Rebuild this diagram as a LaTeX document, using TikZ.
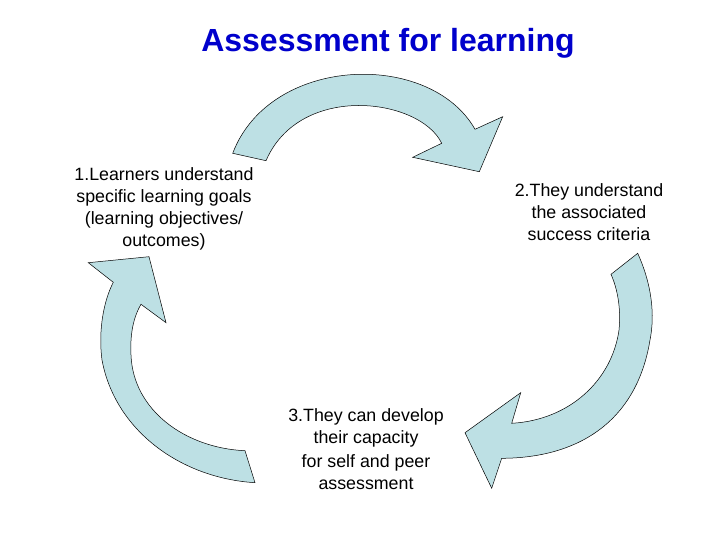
\documentclass[tikz,border=0pt]{standalone}
\usepackage{fontspec}
\setmainfont{Liberation Sans}
\usetikzlibrary{positioning}
\definecolor{arrowfill}{RGB}{189,224,228}
\definecolor{titleblue}{RGB}{0,0,204}

\begin{document}
\begin{tikzpicture}[x=1pt, y=-1pt,
  stage/.style={align=center, inner sep=0pt, anchor=north, font=\fontsize{17.8}{22}\selectfont},
  cyclearrow/.style={draw=black, line width=0.5pt, fill=arrowfill, line join=miter}]
  \useasboundingbox (0,0) rectangle (720,540);

  \node [font=\fontsize{32}{38}\selectfont\bfseries, text=titleblue, anchor=base] (title) at (388,51.5) {Assessment for learning};

  \node [stage] (goals) at (164,167.5) {1.Learners understand\\ specific learning goals\\ (learning objectives/\\ outcomes)};
  \node [stage] (criteria) at (589,183) {2.They understand\\ the associated\\ success criteria};
  \node [stage] (peer) at (366,408) {3.They can develop\\ their capacity\\[2pt] for self and peer\\ assessment};

  % top arrow: goals -> criteria
  \filldraw [cyclearrow] (232.7,153.3) .. controls (270,55) and (430,50) .. (475,129.3)
    -- (502.7,116.7) -- (479.3,171.7) -- (412.7,157.3) -- (441.7,143.3)
    .. controls (420,98) and (300,82) .. (266,160.7) -- cycle;

  % right arrow: criteria -> peer
  \filldraw [cyclearrow] (637.7,253.3) .. controls (652,285) and (655,315) .. (650,340)
    .. controls (637,420) and (580,458) .. (501.7,458.3)
    -- (491.7,488.3) -- (465,432.7) -- (520.7,392.7) -- (511.7,423.3)
    .. controls (570,420) and (612,380) .. (619,330)
    .. controls (621,310) and (618,290) .. (611,274.3) -- cycle;

  % left arrow: peer -> goals
  \filldraw [cyclearrow] (255,482.7) .. controls (180,478) and (115,430) .. (102,360)
    .. controls (98,330) and (104,300) .. (113.3,282.3)
    -- (88.3,262.7) -- (149,256.7) -- (166,322.7) -- (141,304.3)
    .. controls (133,318) and (130,335) .. (131,355)
    .. controls (133,410) and (185,448) .. (245,450.7) -- cycle;
\end{tikzpicture}
\end{document}
